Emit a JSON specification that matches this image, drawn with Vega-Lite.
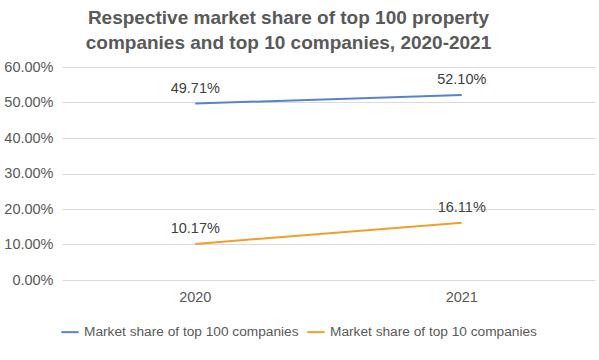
{
  "$schema": "https://vega.github.io/schema/vega-lite/v6.json",
  "width": 533,
  "height": 213,
  "autosize": {"type": "none"},
  "padding": {"left": 62, "top": 67, "right": 4, "bottom": 80},
  "background": "white",
  "config": {
    "font": "Liberation Sans",
    "view": {"stroke": null}
  },
  "title": {
    "text": ["Respective market share of top 100 property", "companies and top 10 companies, 2020-2021"],
    "anchor": "middle",
    "frame": "group",
    "dx": -40,
    "offset": 6,
    "fontSize": 19,
    "fontWeight": "bold",
    "lineHeight": 25,
    "color": "#595959",
    "font": "Liberation Sans"
  },
  "data": {
    "values": [
      {"year": "2020", "series": "Market share of top 100 companies", "value": 0.4971},
      {"year": "2021", "series": "Market share of top 100 companies", "value": 0.5210},
      {"year": "2020", "series": "Market share of top 10 companies", "value": 0.1017},
      {"year": "2021", "series": "Market share of top 10 companies", "value": 0.1611}
    ]
  },
  "encoding": {
    "x": {
      "field": "year",
      "type": "ordinal",
      "scale": {"type": "band", "paddingInner": 0, "paddingOuter": 0},
      "axis": {
        "title": null,
        "labelAngle": 0,
        "labelFontSize": 14.5,
        "labelColor": "#595959",
        "labelPadding": 10,
        "ticks": false,
        "domain": false,
        "grid": false
      }
    },
    "y": {
      "field": "value",
      "type": "quantitative",
      "scale": {"domain": [0, 0.6]},
      "axis": {
        "title": null,
        "format": ".2%",
        "values": [0, 0.1, 0.2, 0.3, 0.4, 0.5, 0.6],
        "labelFontSize": 14.5,
        "labelColor": "#595959",
        "labelPadding": 9,
        "ticks": false,
        "domain": false,
        "grid": true,
        "gridColor": "#d9d9d9",
        "gridWidth": 1
      }
    },
    "color": {
      "field": "series",
      "type": "nominal",
      "scale": {
        "domain": ["Market share of top 100 companies", "Market share of top 10 companies"],
        "range": ["#5585C8", "#EFA02A"]
      },
      "legend": {
        "title": null,
        "orient": "none",
        "direction": "horizontal",
        "legendX": -2,
        "legendY": 255,
        "symbolType": "stroke",
        "symbolSize": 300,
        "symbolStrokeWidth": 2,
        "labelFontSize": 13.7,
        "labelColor": "#595959",
        "labelLimit": 0,
        "columnPadding": 4,
        "labelOffset": 4
      }
    }
  },
  "layer": [
    {
      "mark": {"type": "line", "strokeWidth": 2}
    },
    {
      "mark": {"type": "text", "dy": -15, "fontSize": 14.5, "color": "#404040"},
      "encoding": {
        "text": {"field": "value", "type": "quantitative", "format": ".2%"},
        "color": {"value": "#404040"}
      }
    }
  ]
}
